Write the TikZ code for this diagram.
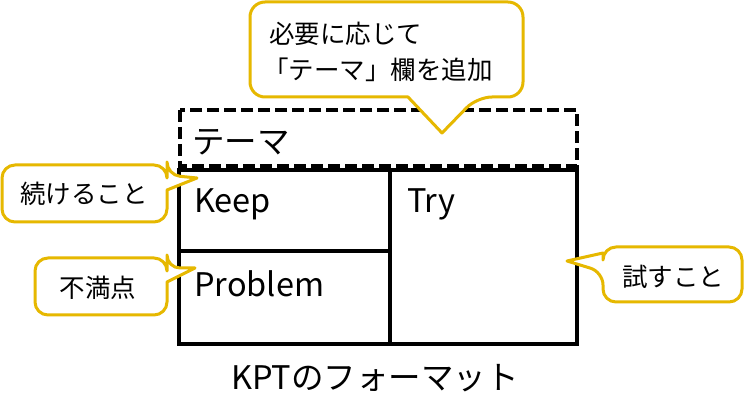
\documentclass[tikz,border=0pt]{standalone}
\usepackage{fontspec}
\setmainfont{Noto Sans CJK JP}
\definecolor{gold}{RGB}{230,184,0}
\begin{document}
\begin{tikzpicture}[x=1pt,y=-1pt]
\tikzset{
  callout/.style={draw=gold, line width=3pt, fill=white, line join=round},
  boxline/.style={draw=black, line width=4pt},
  big/.style={font=\fontsize{32.5}{38}\selectfont, inner sep=0pt, anchor=base west},
  small/.style={font=\fontsize{25.5}{30}\selectfont, inner sep=0pt},
}
\useasboundingbox[fill=white] (0,0) rectangle (744,419);
% dashed theme box
\draw[boxline, dash pattern=on 12pt off 5pt] (180,110) rectangle (577,166);
% main frame
\draw[boxline] (179,170) rectangle (577,344);
\draw[boxline] (390,170) -- (390,344);
\draw[boxline] (179,251) -- (390,251);
% texts
\node[big] (theme) at (192,154) {テーマ};
\node[big] (keep) at (194,213) {Keep};
\node[big] (try) at (407,213) {Try};
\node[big] (problem) at (194,297) {Problem};
\node[big, anchor=base] (title) at (375,389) {KPTのフォーマット};
% callouts
\draw[callout, rounded corners=15pt] (250,50) -- (250,2) -- (523,2) -- (523,97) -- (477,97)
  [sharp corners] -- (442,133) -- (408,97) [rounded corners=15pt] -- (250,97) -- cycle;
\draw[callout, rounded corners=13pt] (2,194) -- (2,165) -- (167,165) -- (167,175)
  [sharp corners] -- (197,178) -- (167,190) [rounded corners=13pt] -- (167,222) -- (2,222) -- cycle;
\draw[callout, rounded corners=13pt] (35,287) -- (35,258) -- (167,258) -- (167,268)
  [sharp corners] -- (195,268) -- (167,282) [rounded corners=13pt] -- (167,315) -- (35,315) -- cycle;
\draw[callout, rounded corners=13pt] (742,275) -- (742,302) -- (603,302) -- (603,272)
  [sharp corners] -- (567,261) -- (603,253) [rounded corners=13pt] -- (603,247) -- (742,247) -- cycle;
\node[small, anchor=base west] (note1) at (269,44) {必要に応じて};
\node[small, anchor=base west] (note2) at (263,80) {「テーマ」欄を追加};
\node[small] (keepnote) at (84,194) {続けること};
\node[small] (problemnote) at (98,288) {不満点};
\node[small] (trynote) at (673,277) {試すこと};
\end{tikzpicture}
\end{document}
